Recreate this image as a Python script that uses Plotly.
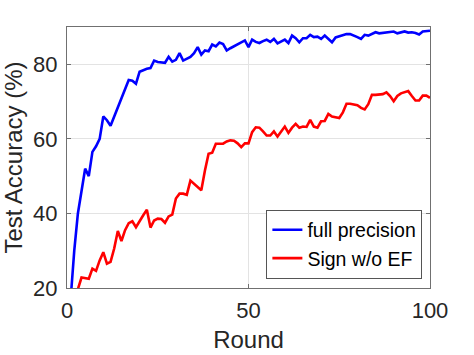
import plotly.graph_objects as go

rounds = list(range(1, 101))

full_precision = [
    17, 30, 40, 46, 52, 50, 56.5, 58, 60, 66,
    65, 63.5, 66, 68.5, 71, 73.5, 75.8, 75.6, 74.8, 78,
    78.5, 78.8, 79, 81, 80.6, 80.6, 80.4, 82, 80.7, 81.2,
    83, 81, 81.5, 82, 83, 84.6, 82.6, 83.7, 83.5, 85.3,
    84.8, 85.8, 85.4, 83.7, 84.3, 84.8, 85.5, 86, 86.4, 84.6,
    86.6, 86, 85.7, 86.2, 86.6, 86, 86.8, 85.6, 86.2, 86.6,
    85.7, 87.7, 87, 85.9, 87, 87, 87.9, 87.3, 87.4, 86.8,
    87.7, 86.9, 85.9, 87.2, 87.5, 88, 88.1, 88.1, 87.8, 87.3,
    86.8, 87.9, 87.7, 88.2, 88.6, 88.3, 88.4, 88.5, 88.6, 88.8,
    88.3, 88.6, 88.8, 88.5, 88.6, 88.4, 88, 88.8, 88.8, 89,
]

sign_wo_ef = [
    12, 16, 19.7, 22.8, 22.7, 22.5, 25.2, 24.6, 27.4, 29.6,
    26.5, 27, 30.6, 35.3, 32.6, 35.5, 37.4, 37.9, 36.3, 38.1,
    39.5, 41, 36.2, 38.1, 38.6, 38.5, 37.5, 39.2, 39.7, 44,
    45.3, 45.3, 45, 48.8, 48, 47, 46.2, 51.5, 56, 56.3,
    58.7, 58.7, 58.7, 59.3, 59.6, 59.5, 58.8, 57.8, 58.8, 58.8,
    61.8, 63.1, 63, 62, 60.9, 60.9, 62, 60.6, 62, 63.3,
    61.6, 63, 64, 63, 63.3, 63.2, 65.1, 63.3, 63, 64.7,
    64.8, 66.7, 66, 65.8, 65.6, 67.1, 69.4, 69.4, 69.3, 69,
    68.3, 67.9, 69.3, 71.8, 71.8, 71.8, 72, 72.5, 71.5, 70.1,
    71.5, 72.2, 72.6, 72.8, 71.5, 70.3, 70.3, 71.6, 71.6, 71,
]

x_ticks = [0, 50, 100]
y_ticks = [20, 40, 60, 80]

FONT = "Liberation Sans, Arial, Helvetica, sans-serif"
TXT = "#262626"
AX = "#707070"

fig = go.Figure()
fig.add_trace(go.Scatter(x=rounds, y=full_precision, mode="lines",
                         name="full precision",
                         line=dict(color="#0000ff", width=2.6)))
fig.add_trace(go.Scatter(x=rounds, y=sign_wo_ef, mode="lines",
                         name="Sign w/o EF",
                         line=dict(color="#ff0000", width=2.6)))

axis_common = dict(
    showline=True, linecolor=AX, linewidth=1, mirror="ticks",
    ticks="inside", ticklen=4, tickcolor=AX, tickwidth=1,
    showgrid=True, gridcolor="#e3e3e3", gridwidth=1,
    zeroline=False, automargin=False,
    tickfont=dict(family=FONT, size=22, color=TXT),
)

fig.update_xaxes(
    range=[0, 100], tickvals=x_ticks, ticktext=[str(v) for v in x_ticks],
    title=dict(text="Round", font=dict(family=FONT, size=24, color=TXT), standoff=8),
    ticklabelstandoff=3,
    **axis_common,
)
fig.update_yaxes(
    range=[20, 90], tickvals=y_ticks, ticktext=[str(v) for v in y_ticks],
    title=dict(text="Test Accuracy (%)", font=dict(family=FONT, size=24, color=TXT), standoff=3),
    ticklabelstandoff=4,
    **axis_common,
)

fig.update_layout(
    width=474, height=355,
    margin=dict(l=67, r=44, t=27, b=67),
    paper_bgcolor="white", plot_bgcolor="white",
    font=dict(family=FONT, color=TXT),
    showlegend=True,
    legend=dict(
        x=0.979, y=0.036, xanchor="right", yanchor="bottom",
        bgcolor="white", bordercolor="#555555", borderwidth=1,
        font=dict(family=FONT, size=19.5, color="#000000"),
        tracegroupgap=0, itemwidth=30,
    ),
)

fig.write_html("out.html", config={"displayModeBar": False},
               post_script="document.body.style.margin='0';")
